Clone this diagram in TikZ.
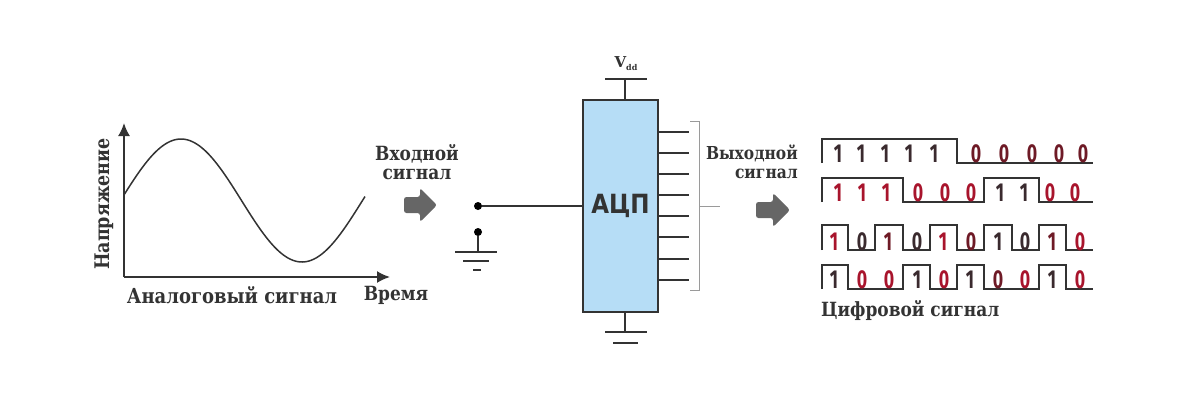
\documentclass[tikz,border=0pt]{standalone}
\usepackage{fontspec}
\usepackage{graphicx}
\usetikzlibrary{arrows.meta}
\setmainfont{DejaVu Serif}
\newfontfamily\adcfont{DejaVu Sans}
\newfontfamily\digfont{Fira Sans}
\definecolor{ink}{HTML}{333333}
\definecolor{boxblue}{HTML}{B6DDF6}
\definecolor{arrgray}{HTML}{666666}
\definecolor{brgray}{HTML}{9A9A9A}
\definecolor{dD}{HTML}{3A2A2E}
\definecolor{dM}{HTML}{6E1A26}
\definecolor{dR}{HTML}{A8142C}
\newcommand\dg[1]{\scalebox{0.74}[1.08]{#1}}
\newcommand\tl[1]{\scalebox{1}[1.15]{#1}}
\tikzset{
  lbl/.style={font=\bfseries\fontsize{17}{20}\selectfont, text=ink, inner sep=0pt},
  wave/.style={draw=ink, line width=1.8pt, line join=miter},
  wire/.style={draw=ink, line width=1.8pt},
  dot/.style={circle, fill=black, inner sep=0pt, minimum size=8pt},
  digit/.style={font=\digfont\bfseries\fontsize{24}{24}\selectfont, inner sep=0pt, anchor=base},
  blockarrow/.style={fill=arrgray, rounded corners=2.5pt},
}
\begin{document}
\begin{tikzpicture}[x=1pt,y=-1pt]
\useasboundingbox (0,0) rectangle (1200,400);
% ---------- analog plot ----------
\coordinate (orig) at (124,277);
\coordinate (ytip) at (124,123);
\coordinate (xtip) at (390,277);
\draw[wire, -{Latex[length=13pt,width=12pt]}] (orig) -- (ytip);
\draw[wire, -{Latex[length=13pt,width=12pt]}] (orig) -- (xtip);
\draw[draw=ink, line width=1.5pt] plot[domain=124:365, samples=120, smooth] (\x, {200.5 - 61.5*cos((\x-181)*1.4876)});
\node[lbl, rotate=90, font=\bfseries\fontsize{17.5}{20}\selectfont] (ylab) at (104,204) {\tl{Напряжение}};
\node[lbl, font=\bfseries\fontsize{18}{20}\selectfont] (alab) at (232,295) {\tl{Аналоговый сигнал}};
\node[lbl] (tlab) at (396,295) {\tl{Время}};
% ---------- input label & arrow ----------
\node[lbl, align=center, font=\bfseries\fontsize{17}{20}\selectfont] (inlab) at (417,162) {\tl{Входной}\\[-1pt]\tl{сигнал}};
\fill[blockarrow] (404,197) -- (420,197) -- (420,188) -- (437,205) -- (420,222) -- (420,213) -- (404,213) -- cycle;
% ---------- ADC ----------
\node[draw=ink, line width=1.6pt, fill=boxblue, minimum width=75pt, minimum height=212pt, inner sep=0pt,
      font=\adcfont\bfseries\fontsize{23}{23}\selectfont, text=ink] (adc) at (620.5,206) {\tl{АЦП}};
\node[dot] (inA) at (478,206) {};
\node[dot] (inB) at (478,232) {};
\draw[wire] (inA) -- (adc.west);
\coordinate (gndI) at (478,252);
\draw[wire] (inB) -- (gndI);
\draw[wire] (455,252) -- (497,252);
\draw[wire] (463,261) -- (489,261);
\draw[wire] (473,270) -- (481,270);
% Vdd
\coordinate (vddc) at (625,79);
\draw[wire] (625,100) -- (vddc);
\draw[wire] (605,79) -- (647,79);
\node[font=\bfseries\fontsize{15}{15}\selectfont, text=ink, inner sep=0pt] (vdd) at (626,64) {V\raisebox{-3pt}{\fontsize{8}{8}\selectfont dd}};
% ground
\coordinate (gndA) at (625,332);
\draw[wire] (625,312) -- (gndA);
\draw[wire] (605,332) -- (647,332);
\draw[wire] (613,343) -- (638,343);
% outputs
\foreach \yy in {132,153,174,195,216,237,259,280}{
  \draw[wire] (adc.east |- 0,\yy) -- (689,\yy);
}
\draw[brgray, line width=1pt] (690,121) -- (699,121) -- (699,290) -- (690,290);
\coordinate (brmid) at (699,206);
\draw[brgray, line width=1pt] (brmid) -- (720,206);
\node[lbl, align=right, font=\bfseries\fontsize{15.5}{19}\selectfont, anchor=east] (outlab) at (798,162) {\tl{Выходной}\\[0pt]\tl{сигнал}};
\fill[blockarrow] (756,202) -- (773,202) -- (773,193) -- (790,210) -- (773,227) -- (773,218) -- (756,218) -- cycle;
% ---------- digital waveforms ----------
% row 1: 1111100000
\draw[wave] (822,163) -- (822,139) -- (957,139) -- (957,163) -- (1093,163);
% row 2: 1110001100
\draw[wave] (822,202) -- (822,178) -- (903,178) -- (903,202) -- (984,202) -- (984,178) -- (1039,178) -- (1039,202) -- (1093,202);
% row 3: 1010101010
\draw[wave] (822,250) -- (822,225) -- (848,225) -- (848,250) -- (875,250) -- (875,225) -- (903,225) -- (903,250) -- (930,250) -- (930,225) -- (957,225) -- (957,250) -- (984,250) -- (984,225) -- (1012,225) -- (1012,250) -- (1039,250) -- (1039,225) -- (1066,225) -- (1066,250) -- (1093,250);
% row 4: 1001010010
\draw[wave] (822,289) -- (822,265) -- (848,265) -- (848,289) -- (903,289) -- (903,265) -- (930,265) -- (930,289) -- (957,289) -- (957,265) -- (984,265) -- (984,289) -- (1039,289) -- (1039,265) -- (1066,265) -- (1066,289) -- (1093,289);
% digits
\foreach \d/\xx/\c [count=\i] in {1/838/dD,1/861/dD,1/885/dD,1/909/dD,1/934/dD,0/976/dM,0/1004/dM,0/1032/dM,0/1059/dM,0/1083/dM}{
  \node[digit, text=\c] (ra\i) at (\xx,162) {\dg{\d}};
}
\foreach \d/\xx/\c [count=\i] in {1/838/dR,1/862/dR,1/886/dR,0/918/dR,0/945/dR,0/971/dR,1/1000/dD,1/1024/dD,0/1050/dR,0/1075/dR}{
  \node[digit, text=\c] (rb\i) at (\xx,201) {\dg{\d}};
}
\foreach \d/\xx/\c [count=\i] in {1/834/dR,0/862/dD,1/888/dM,0/917/dD,1/943/dR,0/971/dM,1/998/dD,0/1025/dD,1/1052/dM,0/1080/dR}{
  \node[digit, text=\c] (rc\i) at (\xx,250) {\dg{\d}};
}
\foreach \d/\xx/\c [count=\i] in {1/834/dD,0/862/dR,0/889/dR,1/917/dD,0/944/dR,1/970/dD,0/998/dM,0/1025/dR,1/1052/dD,0/1080/dR}{
  \node[digit, text=\c] (rd\i) at (\xx,288) {\dg{\d}};
}
\node[lbl, anchor=west] (dlab) at (821,311) {\tl{Цифровой сигнал}};
\end{tikzpicture}
\end{document}
